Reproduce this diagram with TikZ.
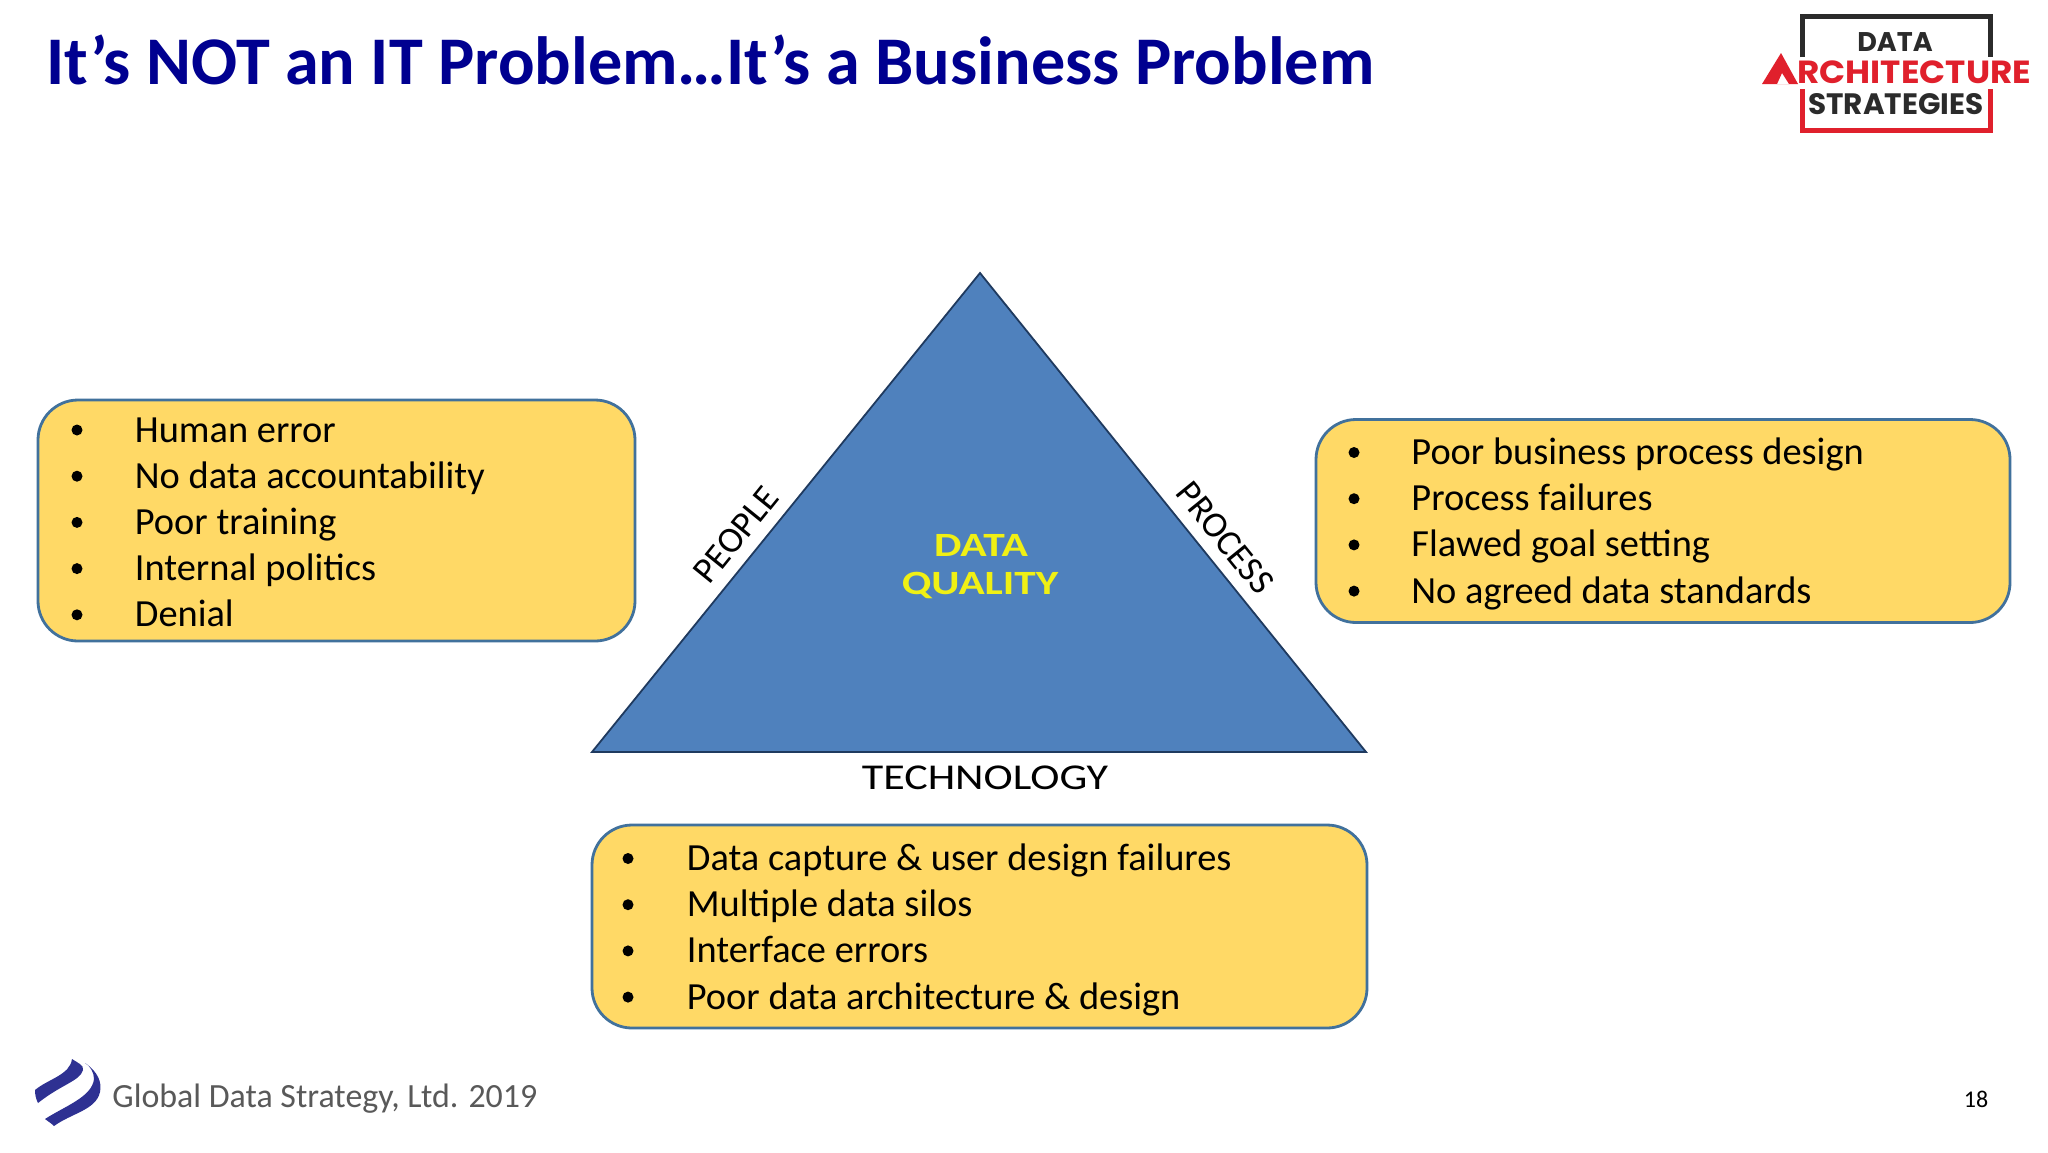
\documentclass[tikz,border=0pt]{standalone}
\usepackage{graphicx}
\usepackage{fontspec}
\setmainfont{Carlito}
\newfontfamily\logofont{Poppins}
\definecolor{boxfill}{HTML}{FFD966}
\definecolor{boxline}{HTML}{41719C}
\definecolor{trifill}{HTML}{4F81BD}
\definecolor{triline}{HTML}{1F3A5F}
\definecolor{titleblue}{HTML}{000090}
\definecolor{logored}{HTML}{E0202C}
\definecolor{logoblack}{HTML}{2B2B2B}
\definecolor{swoosh}{HTML}{2E3192}
\definecolor{foot}{HTML}{595959}
\tikzset{
  panel/.style={draw=boxline,line width=1.4pt,fill=boxfill,rounded corners=20pt,inner sep=0pt},
  item/.style={anchor=base west,inner sep=0pt,font=\fontsize{19.2}{22}\selectfont,text=black},
  dotmark/.style={circle,fill=black,inner sep=0pt,minimum size=5.5pt},
  side/.style={inner sep=0pt,font=\fontsize{18.2}{20}\selectfont,text=black},
  core/.style={inner sep=0pt,font=\fontsize{17}{20}\selectfont\bfseries,text={rgb,255:red,240;green,240;blue,20}},
  logotext/.style={inner sep=0pt},
}
\newcommand{\wider}[2]{\scalebox{#1}[1]{#2}}
\begin{document}
\begin{tikzpicture}[x=0.5pt,y=-0.5pt]
\useasboundingbox (0,0) rectangle (2048,1152);
\fill[white] (0,0) rectangle (2048,1152);
% title
\node[anchor=west,inner sep=0pt,font=\fontsize{34.1}{38}\selectfont\bfseries,text=titleblue] (title) at (46,60) {It’s NOT an IT Problem…It’s a Business Problem};
% triangle
\coordinate (apex) at (980,273);
\coordinate (bl) at (592,752);
\coordinate (br) at (1366,752);
\draw[fill=trifill,draw=triline,line width=0.9pt,line join=miter] (apex) -- (bl) -- (br) -- cycle;
\node[core] (dq1) at (981,545) {\wider{1.28}{DATA}};
\node[core] (dq2) at (980,585.5) {\wider{1.27}{QUALITY}};
\node[side,rotate=51] (people) at (736,535) {PEOPLE};
\node[side,rotate=-51] (process) at (1225,538) {PROCESS};
\node[side] (tech) at (985,778) {\wider{1.21}{TECHNOLOGY}};
% panels
\node[panel,minimum width=298.5pt,minimum height=120.5pt] (pl) at (336.5,520.5) {};
\node[panel,minimum width=347pt,minimum height=101.5pt] (pr) at (1663,521) {};
\node[panel,minimum width=387.5pt,minimum height=101.5pt] (pb) at (979.5,926.5) {};
% left items
\foreach \n/\yy/\t in {a/442/Human error,b/488.2/No data accountability,c/534.4/Poor training,d/580.6/Internal politics,e/626.8/Denial}{
  \node[dotmark] (l\n) at (77,\yy-12) {};
  \node[item] (lt\n) at (134.5,\yy) {\t};
}
\foreach \n/\yy/\t in {a/464.5/Poor business process design,b/510.7/Process failures,c/556.9/Flawed goal setting,d/603.1/No agreed data standards}{
  \node[dotmark] (r\n) at (1354,\yy-12) {};
  \node[item] (rt\n) at (1411,\yy) {\t};
}
\foreach \n/\yy/\t in {a/870.5/Data capture \& user design failures,b/916.7/Multiple data silos,c/962.9/Interface errors,d/1009.1/Poor data architecture \& design}{
  \node[dotmark] (b\n) at (628,\yy-12) {};
  \node[item] (bt\n) at (686.5,\yy) {\t};
}
% logo
\draw[logoblack,line width=2.5pt] (1802,57) -- (1802,16) -- (1990,16) -- (1990,57);
\draw[logored,line width=2.5pt] (1802,89) -- (1802,130) -- (1990,130) -- (1990,89);
\node[logotext,text=logoblack,font=\logofont\bfseries\fontsize{13.5}{16}\selectfont] (ldata) at (1895,42) {DATA};
\node[logotext,text=logored,font=\logofont\bfseries\fontsize{16}{18}\selectfont,anchor=west] (larch) at (1797,72.5) {\wider{1.07}{RCHITECTURE}};
\node[logotext,text=logoblack,font=\logofont\bfseries\fontsize{14.75}{16}\selectfont] (lstr) at (1896,104) {STRATEGIES};
\fill[logored,even odd rule] (1762,84) -- (1781,53) -- (1798,84) -- cycle (1777,84) -- (1782,73) -- (1789,84) -- cycle;
% footer logo
\fill[swoosh] (72,1059) .. controls (78,1063) and (84,1065) .. (83,1070)
  .. controls (80,1081) and (62,1084) .. (38,1103)
  .. controls (36,1099) and (35,1095) .. (35,1090)
  .. controls (48,1079) and (70,1075) .. (72,1059) -- cycle;
\fill[swoosh] (85,1063) .. controls (98,1072) and (102,1082) .. (100,1092)
  .. controls (96,1110) and (72,1113) .. (54,1126)
  .. controls (50,1122) and (47,1121) .. (45,1119)
  .. controls (65,1106) and (92,1097) .. (94,1079)
  .. controls (94,1072) and (90,1066) .. (85,1063) -- cycle;
\node[anchor=west,inner sep=0pt,font=\fontsize{16.95}{18}\selectfont,text=foot] (footer) at (112,1098.5) {Global Data Strategy, Ltd. 2019};
\node[inner sep=0pt,font=\fontsize{12}{14}\selectfont,text=black] (pagenum) at (1976,1099) {18};
\end{tikzpicture}
\end{document}
